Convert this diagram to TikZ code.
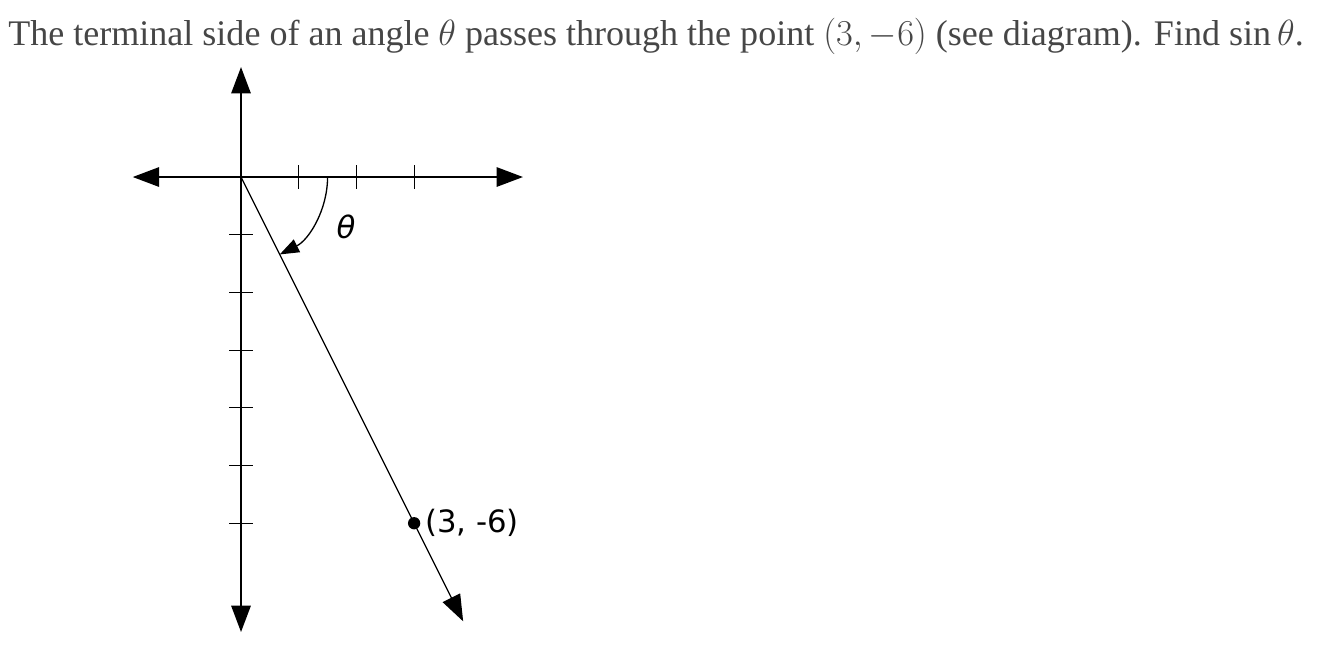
\documentclass[tikz,border=0pt]{standalone}
\usepackage{fontspec}
\setmainfont{Liberation Serif}
\newfontfamily\labelfont{DejaVu Sans}
\usetikzlibrary{arrows.meta,positioning}
\definecolor{titlegray}{RGB}{70,70,70}

\tikzset{
  axis/.style={line width=1.1pt, {Triangle[length=15pt,width=11pt]}-{Triangle[length=15pt,width=11pt]}},
  ray/.style={line width=0.75pt, -{Triangle[length=15pt,width=11pt]}},
  axistick/.style={line width=0.7pt},
  anglearc/.style={line width=0.75pt, -{Triangle[length=11pt,width=8pt]}},
  plotlabel/.style={font=\labelfont\fontsize{17.5}{21}\selectfont, inner sep=0pt},
}

\begin{document}
\begin{tikzpicture}[x=1.154cm, y=1.154cm]

\useasboundingbox (-4.177,3.068) rectangle (18.700,-8.267);

% Question text
\node[anchor=base west, inner sep=0pt, text=titlegray, font=\fontsize{20.5}{24}\selectfont] (question) at (-4.038,2.276)
  {The terminal side of an angle $\theta$ passes through the point $(3,-6)$ (see diagram). Find $\sin\theta$.};

% Axes
\coordinate (O) at (0,0);
\coordinate (xleft) at (-1.877,0);
\coordinate (xright) at (4.887,0);
\coordinate (ytop) at (0,1.906);
\coordinate (ybot) at (0,-7.886);

\draw[axis] (xleft) -- (xright);
\draw[axis] (ybot) -- (ytop);

% Ticks
\foreach \i in {1,2,3}
  \draw[axistick] (\i,0.2) -- (\i,-0.2);
\foreach \j in {1,...,6}
  \draw[axistick] (-0.2,-\j) -- (0.2,-\j);

% Terminal side
\coordinate (P) at (3,-6);
\coordinate (rayend) at (3.85,-7.7);
\draw[ray] (O) -- (rayend);

% Angle theta
\coordinate (arcstart) at (1.5,0);
\draw[anglearc] (arcstart) arc[start angle=0, end angle=-63.43, radius=1.5];
\node[plotlabel, font=\labelfont\itshape\fontsize{17.5}{21}\selectfont] (thetalabel) at (1.82,-0.87) {θ};

% Point
\fill (P) circle (3.5pt);
\node[plotlabel, right=6pt of P] (pointlabel) {(3, -6)};

\end{tikzpicture}
\end{document}
